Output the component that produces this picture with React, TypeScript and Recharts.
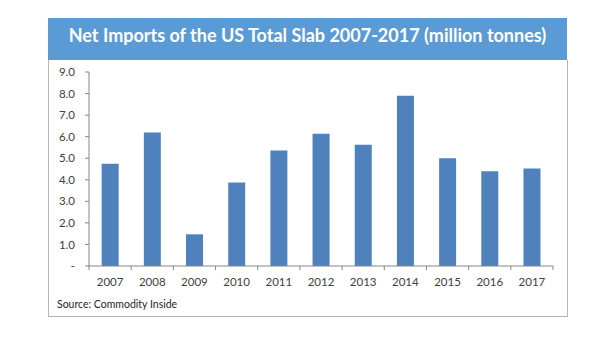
import React from 'react';
import { BarChart, Bar, XAxis, YAxis } from 'recharts';

const years = ['2007', '2008', '2009', '2010', '2011', '2012', '2013', '2014', '2015', '2016', '2017'];
const netImports = [4.74, 6.19, 1.47, 3.87, 5.36, 6.14, 5.62, 7.9, 5.0, 4.4, 4.52];
const yTicks = [0, 1, 2, 3, 4, 5, 6, 7, 8, 9];

const data = years.map((year, i) => ({ year, value: netImports[i] }));

const FONT = 'Lato, "Open Sans", sans-serif';
const AXIS = '#868686';
const PLOT_LEFT = 89;
const PLOT_RIGHT = 553;
const BAND = (PLOT_RIGHT - PLOT_LEFT) / years.length;

function YearTick(props: any) {
  const { x, y, payload, index } = props;
  const left = x - BAND / 2;
  return (
    <g>
      <line x1={left} y1={y} x2={left} y2={y + 4} stroke={AXIS} />
      {index === years.length - 1 && (
        <line x1={left + BAND} y1={y} x2={left + BAND} y2={y + 4} stroke={AXIS} />
      )}
      <text x={x} y={y + 20} textAnchor="middle" fill="#404040" fontSize={11.5} fontFamily={FONT}>
        {payload.value}
      </text>
    </g>
  );
}

export default function App() {
  return (
    <div style={{ position: 'absolute', left: 0, top: 0, width: 600, height: 347, background: '#fff' }}>
      <div
        style={{
          position: 'absolute',
          left: 48,
          top: 18,
          width: 519,
          height: 42,
          background: '#5b9bd5',
          color: '#fff',
          fontFamily: FONT,
          fontWeight: 700,
          fontSize: 18,
          lineHeight: '35px',
          textAlign: 'center',
          whiteSpace: 'nowrap',
        }}
      >
        Net Imports of the US Total Slab 2007-2017 (million tonnes)
      </div>
      <div
        style={{
          position: 'absolute',
          left: 48,
          top: 60,
          width: 518,
          height: 256,
          borderLeft: '1px solid #b4b4b4',
          borderRight: '1px solid #b4b4b4',
          borderBottom: '1px solid #b4b4b4',
        }}
      />
      <div style={{ position: 'absolute', left: 0, top: 0 }}>
        <BarChart
          width={600}
          height={347}
          data={data}
          margin={{ top: 72, right: 600 - PLOT_RIGHT, bottom: 51, left: PLOT_LEFT - 40 }}
          barCategoryGap="30%"
        >
          <YAxis
            width={40}
            domain={[0, 9]}
            ticks={yTicks}
            interval={0}
            tickFormatter={(v: number) => (v === 0 ? '-' : v.toFixed(1))}
            stroke={AXIS}
            tickSize={4}
            tickMargin={10}
            tick={{ fill: '#404040', fontSize: 11.5, fontFamily: FONT }}
          />
          <XAxis
            dataKey="year"
            height={30}
            stroke={AXIS}
            tickLine={false}
            tickSize={0}
            tickMargin={0}
            interval={0}
            tick={<YearTick />}
          />
          <Bar dataKey="value" fill="#4f81bd" isAnimationActive={false} />
        </BarChart>
      </div>
      <div
        style={{
          position: 'absolute',
          left: 57,
          top: 298,
          fontFamily: FONT,
          fontSize: 10.5,
          color: '#262626',
          whiteSpace: 'nowrap',
        }}
      >
        Source: Commodity Inside
      </div>
    </div>
  );
}
